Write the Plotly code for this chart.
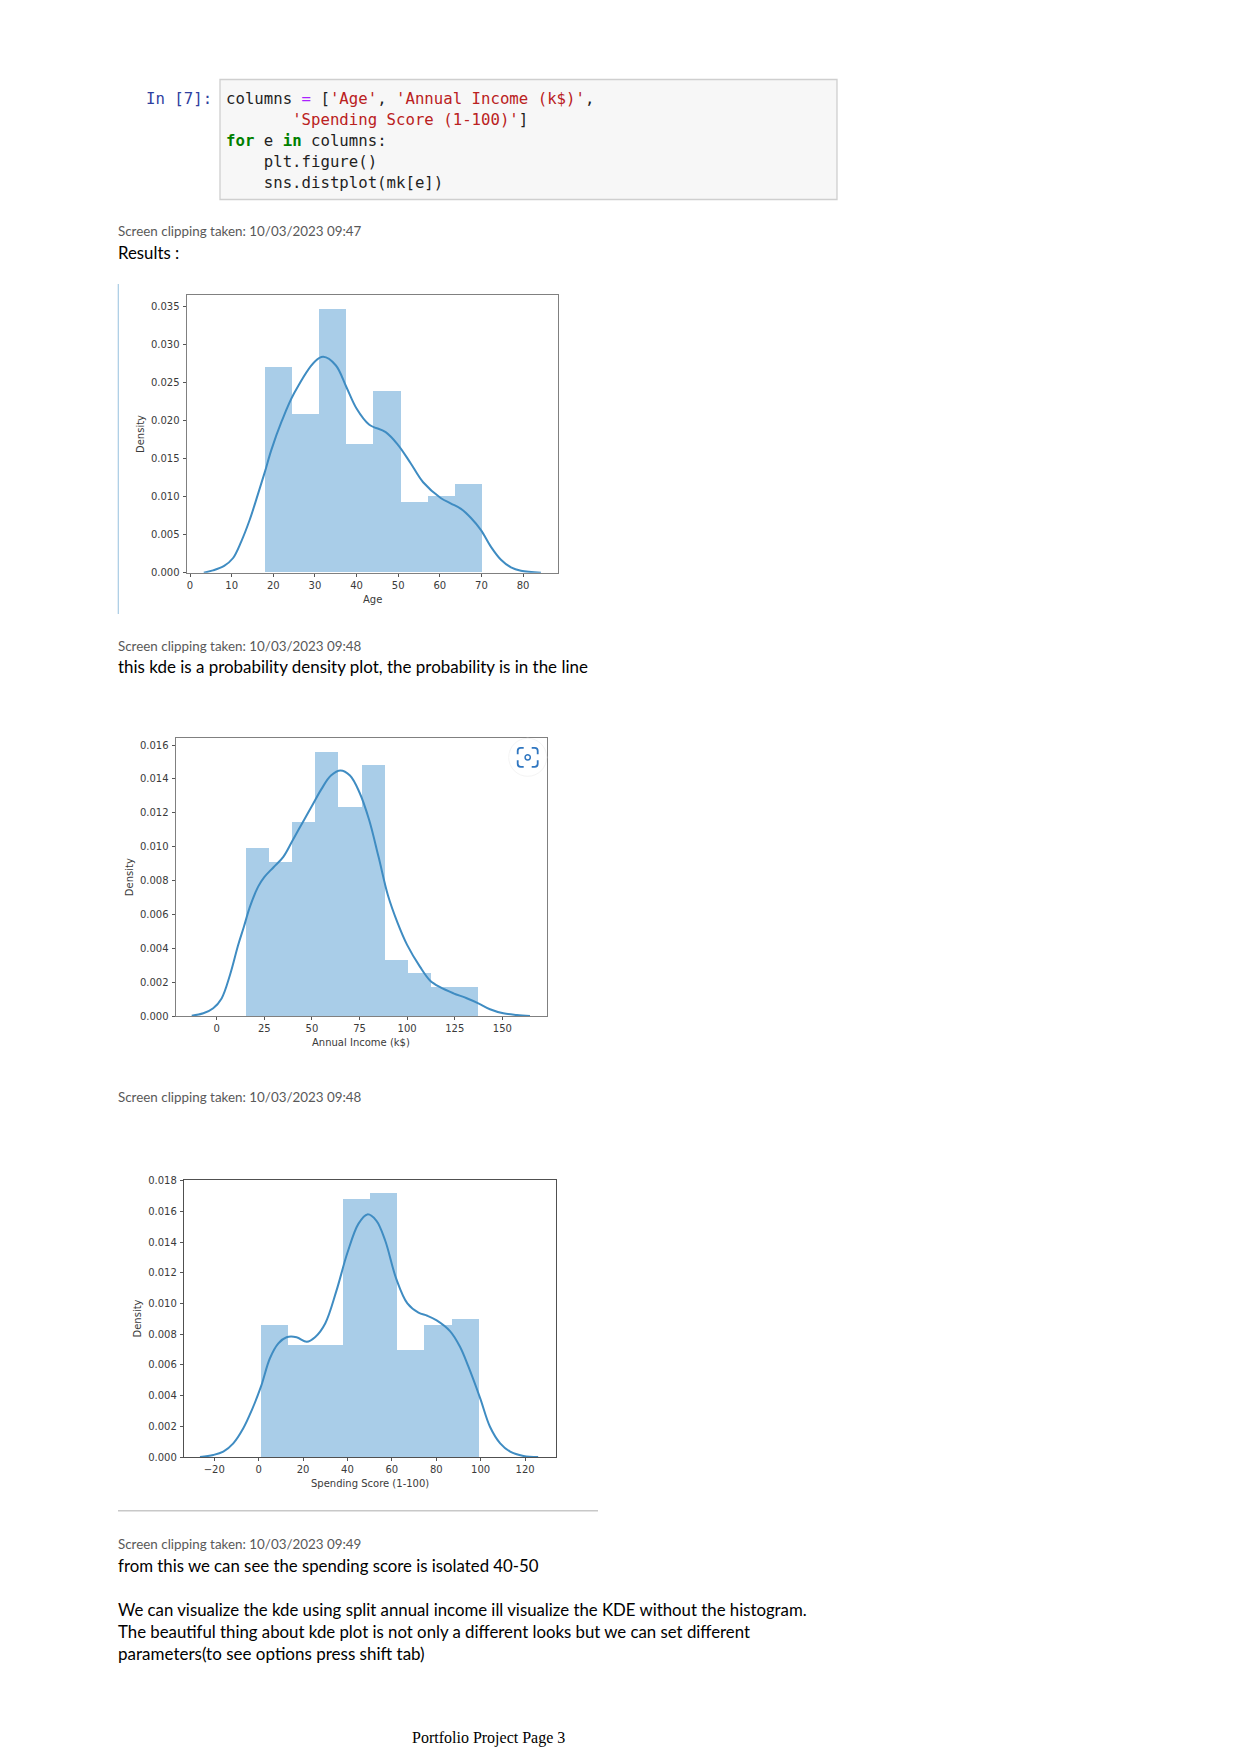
import plotly.graph_objects as go

W = 1240
H = 1757

# age chart
age_edges = [18, 24.5, 31, 37.5, 44, 50.5, 57, 63.5, 70]
age_hist = [0.027, 0.0208, 0.0346, 0.0169, 0.0239, 0.0092, 0.0100, 0.0116]
age_kde_x = [3.3, 5.5, 8.2, 10.3, 12.3, 14.3, 16.3, 18, 19.5, 22, 25, 30, 32, 35, 37.5, 40, 43, 47, 50, 53, 56, 60.3, 62.7, 65.1, 67.5, 69.9, 72.3, 74.7, 77.1, 79.5, 84.3]
age_kde_y = [0, 0.0003, 0.0009, 0.0019, 0.0041, 0.0069, 0.0103, 0.0133, 0.0161, 0.0199, 0.0236, 0.0278, 0.0284, 0.0273, 0.0245, 0.0216, 0.0195, 0.0185, 0.0168, 0.0144, 0.0119, 0.0098, 0.0091, 0.0084, 0.0072, 0.0056, 0.0034, 0.0017, 0.00071, 0.00026, 0]
age_xticks = [0, 10, 20, 30, 40, 50, 60, 70, 80]
age_yticks = [0, 0.005, 0.01, 0.015, 0.02, 0.025, 0.03, 0.035]

# income chart
income_edges = [15, 27.2, 39.4, 51.6, 63.8, 76, 88.2, 100.4, 112.6, 124.8, 137]
income_hist = [0.0099, 0.00906, 0.01145, 0.0156, 0.0123, 0.0148, 0.0033, 0.0025, 0.0017, 0.0017]
income_kde_x = [-13.1, -7, -1.8, 2.6, 7, 11.3, 14.3, 17.5, 21.8, 25, 30, 35, 40, 45, 50, 55, 60, 65, 70, 75, 80, 85, 90, 95, 100, 106.8, 112, 117.3, 124.3, 131.3, 137.4, 143.5, 150.5, 157.6, 164.5]
income_kde_y = [0.00002, 0.00016, 0.00046, 0.00104, 0.00242, 0.00419, 0.00527, 0.00646, 0.00764, 0.0082, 0.0088, 0.0094, 0.0104, 0.0114, 0.0124, 0.0134, 0.0142, 0.0145, 0.0142, 0.0132, 0.0116, 0.0094, 0.0071, 0.0055, 0.0042, 0.0029, 0.0021, 0.0017, 0.00134, 0.00105, 0.00075, 0.0004, 0.00016, 0.00006, 0]
income_xticks = [0, 25, 50, 75, 100, 125, 150]
income_yticks = [0, 0.002, 0.004, 0.006, 0.008, 0.01, 0.012, 0.014, 0.016]

# spending chart
spend_edges = [1.2, 13.45, 25.7, 37.95, 50.2, 62.45, 74.7, 86.95, 99.2]
spend_hist = [0.0086, 0.0073, 0.0073, 0.0168, 0.0172, 0.0070, 0.0086, 0.0090]
spend_kde_x = [-26.4, -20.4, -15.9, -11.4, -6.9, -3.1, 1.05, 5.1, 8.9, 12.6, 17.1, 21.7, 25.4, 30, 35, 40, 45, 49, 53, 57, 62, 67, 72, 76, 80.2, 86.2, 90.7, 94.5, 99.8, 104.2, 108.8, 113.3, 119.3, 125.9]
spend_kde_y = [0, 0.00013, 0.00035, 0.00089, 0.00187, 0.00304, 0.00458, 0.00643, 0.0074, 0.0078, 0.0078, 0.0075, 0.0078, 0.0087, 0.0108, 0.0133, 0.0152, 0.0158, 0.0154, 0.0141, 0.0116, 0.0100, 0.0094, 0.0092, 0.0089, 0.0082, 0.00718, 0.00588, 0.00382, 0.00197, 0.00089, 0.00035, 0.00007, 0]
spend_xticks = [-20, 0, 20, 40, 60, 80, 100, 120]
spend_yticks = [0, 0.002, 0.004, 0.006, 0.008, 0.01, 0.012, 0.014, 0.016, 0.018]

charts = [
    dict(edges=age_edges, hist=age_hist, kx=age_kde_x, ky=age_kde_y, xt=age_xticks, yt=age_yticks, title='Age',
         box=(186.7, 558, 295.3, 572.7), xr=[-0.8, 88.4], yr=[0, 0.0365], spine='#808080', ty=599, tx=140),
    dict(edges=income_edges, hist=income_hist, kx=income_kde_x, ky=income_kde_y, xt=income_xticks, yt=income_yticks, title='Annual Income (k$)',
         box=(175.7, 547.3, 738.3, 1016), xr=[-21.5, 173.6], yr=[0, 0.0164], spine='#808080', ty=1042, tx=129),
    dict(edges=spend_edges, hist=spend_hist, kx=spend_kde_x, ky=spend_kde_y, xt=spend_xticks, yt=spend_yticks, title='Spending Score (1-100)',
         box=(184, 555.7, 1180, 1457), xr=[-33.6, 133.8], yr=[0, 0.01804], spine='#505050', ty=1483, tx=137),
]

BAR_COLOR = '#a9cde8'
LINE_COLOR = '#3f8cc2'
TICK_COLOR = '#3a3a3a'


def px(x):
    return x / W


def py(y):
    return 1 - y / H


fig = go.Figure()
layout = dict(
    width=W, height=H, margin=dict(l=0, r=0, t=0, b=0, pad=0, autoexpand=False),
    paper_bgcolor='white', plot_bgcolor='white', showlegend=False, bargap=0,
    font=dict(family='DejaVu Sans', size=10, color=TICK_COLOR),
)
annotations = []
shapes = []

for i, c in enumerate(charts):
    suffix = '' if i == 0 else str(i + 1)
    centers = [(a + b) / 2 for a, b in zip(c['edges'][:-1], c['edges'][1:])]
    widths = [b - a for a, b in zip(c['edges'][:-1], c['edges'][1:])]
    fig.add_trace(go.Bar(x=centers, y=c['hist'], width=widths, marker=dict(color=BAR_COLOR, line=dict(width=0)),
                         xaxis='x' + suffix, yaxis='y' + suffix))
    fig.add_trace(go.Scatter(x=c['kx'], y=c['ky'], mode='lines', line=dict(color=LINE_COLOR, width=2, shape='spline', smoothing=1),
                             xaxis='x' + suffix, yaxis='y' + suffix))
    l, r, t, b = c['box']
    common = dict(showgrid=False, zeroline=False, showline=True, mirror=True, linecolor=c['spine'], linewidth=1.3, automargin=False,
                  ticks='outside', ticklen=3, tickwidth=1, tickcolor='#555555', tickfont=dict(size=10, color=TICK_COLOR))
    layout['xaxis' + suffix] = dict(domain=[px(l), px(r)], range=c['xr'], anchor='y' + suffix, tickvals=c['xt'], **common)
    layout['yaxis' + suffix] = dict(domain=[py(b), py(t)], range=c['yr'], anchor='x' + suffix, tickvals=c['yt'], tickformat='.3f',
                                    ticklabelstandoff=1, **common)
    annotations.append(dict(x=px((l + r) / 2), y=py(c['ty']), text=c['title'], showarrow=False, xref='paper', yref='paper',
                            xanchor='center', yanchor='middle', font=dict(family='DejaVu Sans', size=10, color=TICK_COLOR)))
    annotations.append(dict(x=px(c['tx']), y=py((t + b) / 2), text='Density', showarrow=False, xref='paper', yref='paper', textangle=-90,
                            xanchor='center', yanchor='middle', font=dict(family='DejaVu Sans', size=10, color=TICK_COLOR)))


def add_text(x, y, text, family='Lato', size=16.8, color='#000000', anchor='left'):
    annotations.append(dict(x=px(x), y=py(y), text=text, showarrow=False, xref='paper', yref='paper', xanchor=anchor, yanchor='middle',
                            font=dict(family=family, size=size, color=color), borderpad=0, borderwidth=0))


def add_path(path, line=None, fill=None, width=1.5):
    shapes.append(dict(type='path', path=path, xref='paper', yref='paper', fillcolor=fill,
                       line=dict(color=line, width=width if line else 0)))


# code cell
shapes.append(dict(type='rect', xref='paper', yref='paper', x0=px(220), x1=px(837), y0=py(79.5), y1=py(199.5),
                   fillcolor='#f7f7f7', line=dict(color='#cfcfcf', width=1.3), layer='below'))

KW = '<span style="color:#008000"><b>%s</b></span>'
STR = '<span style="color:#ba2121">%s</span>'
OP = '<span style="color:#aa22ff">%s</span>'
MONO = 'DejaVu Sans Mono'
add_text(146, 98.5, 'In [7]:', MONO, 15.7, '#303f9f')
code_lines = [
    ('columns ' + OP % '=' + ' [' + STR % "'Age'" + ', ' + STR % "'Annual Income (k$)'" + ',', 98.3),
    ('\u00a0' * 7 + STR % "'Spending Score (1-100)'" + ']', 120),
    (KW % 'for' + ' e ' + KW % 'in' + ' columns:', 141),
    ('\u00a0' * 4 + 'plt.figure()', 161.7),
    ('\u00a0' * 4 + 'sns.distplot(mk[e])', 182.7),
]
for line, y in code_lines:
    add_text(225.5, y, line, MONO, 15.7, '#1f1f1f')

# page notes
GREY = '#595959'
NOTE = 13.4
add_text(118, 230.7, 'Screen clipping taken: 10/03/2023 09:47', size=NOTE, color=GREY)
add_text(118, 252.7, 'Results :')
add_text(118, 646, 'Screen clipping taken: 10/03/2023 09:48', size=NOTE, color=GREY)
add_text(118, 666.7, 'this kde is a probability density plot, the probability is in the line', size=16.95)
add_text(118, 1097, 'Screen clipping taken: 10/03/2023 09:48', size=NOTE, color=GREY)
add_text(118, 1544.3, 'Screen clipping taken: 10/03/2023 09:49', size=NOTE, color=GREY)
add_text(118, 1565, 'from this we can see the spending score is isolated 40-50')
add_text(118, 1609, 'We can visualize the kde using split annual income ill visualize the KDE without the histogram.')
add_text(118, 1631, 'The beautiful thing about kde plot is not only a different looks but we can set different')
add_text(118, 1653, 'parameters(to see options press shift tab)', size=17)
add_text(488, 1738.3, 'Portfolio Project Page 3', 'Liberation Serif', 16, '#000000', 'center')

# rules around the clippings
shapes.append(dict(type='line', xref='paper', yref='paper', x0=px(118.3), x1=px(118.3), y0=py(284), y1=py(614),
                   line=dict(color='#a8cbe4', width=1.2)))
shapes.append(dict(type='line', xref='paper', yref='paper', x0=px(118), x1=px(598), y0=py(1510.7), y1=py(1510.7),
                   line=dict(color='#c8c8c8', width=1.6)))

# lens icon on the income clipping
cx, cy = 527.7, 757.3
ICON = '#2f76c0'
shapes.append(dict(type='circle', xref='paper', yref='paper', x0=px(cx - 19), x1=px(cx + 19), y0=py(cy - 19), y1=py(cy + 19),
                   fillcolor='#ffffff', line=dict(color='#f4f4f4', width=1)))
for sx, sy in [(-1, -1), (1, -1), (-1, 1), (1, 1)]:
    p = (f'M {px(cx + sx * 4)} {py(cy + sy * 9.5)} L {px(cx + sx * 7)} {py(cy + sy * 9.5)} '
         f'Q {px(cx + sx * 10)} {py(cy + sy * 9.5)} {px(cx + sx * 10)} {py(cy + sy * 6.5)} L {px(cx + sx * 10)} {py(cy + sy * 3)}')
    add_path(p, line=ICON, width=1.8)
shapes.append(dict(type='circle', xref='paper', yref='paper', x0=px(cx - 2.6), x1=px(cx + 2.6), y0=py(cy - 2.6), y1=py(cy + 2.6),
                   line=dict(color=ICON, width=1.5)))

layout['annotations'] = annotations
layout['shapes'] = shapes
fig.update_layout(**layout)
fig.write_html("out.html", post_script="document.body.style.margin='0';", config=dict(displayModeBar=False))
